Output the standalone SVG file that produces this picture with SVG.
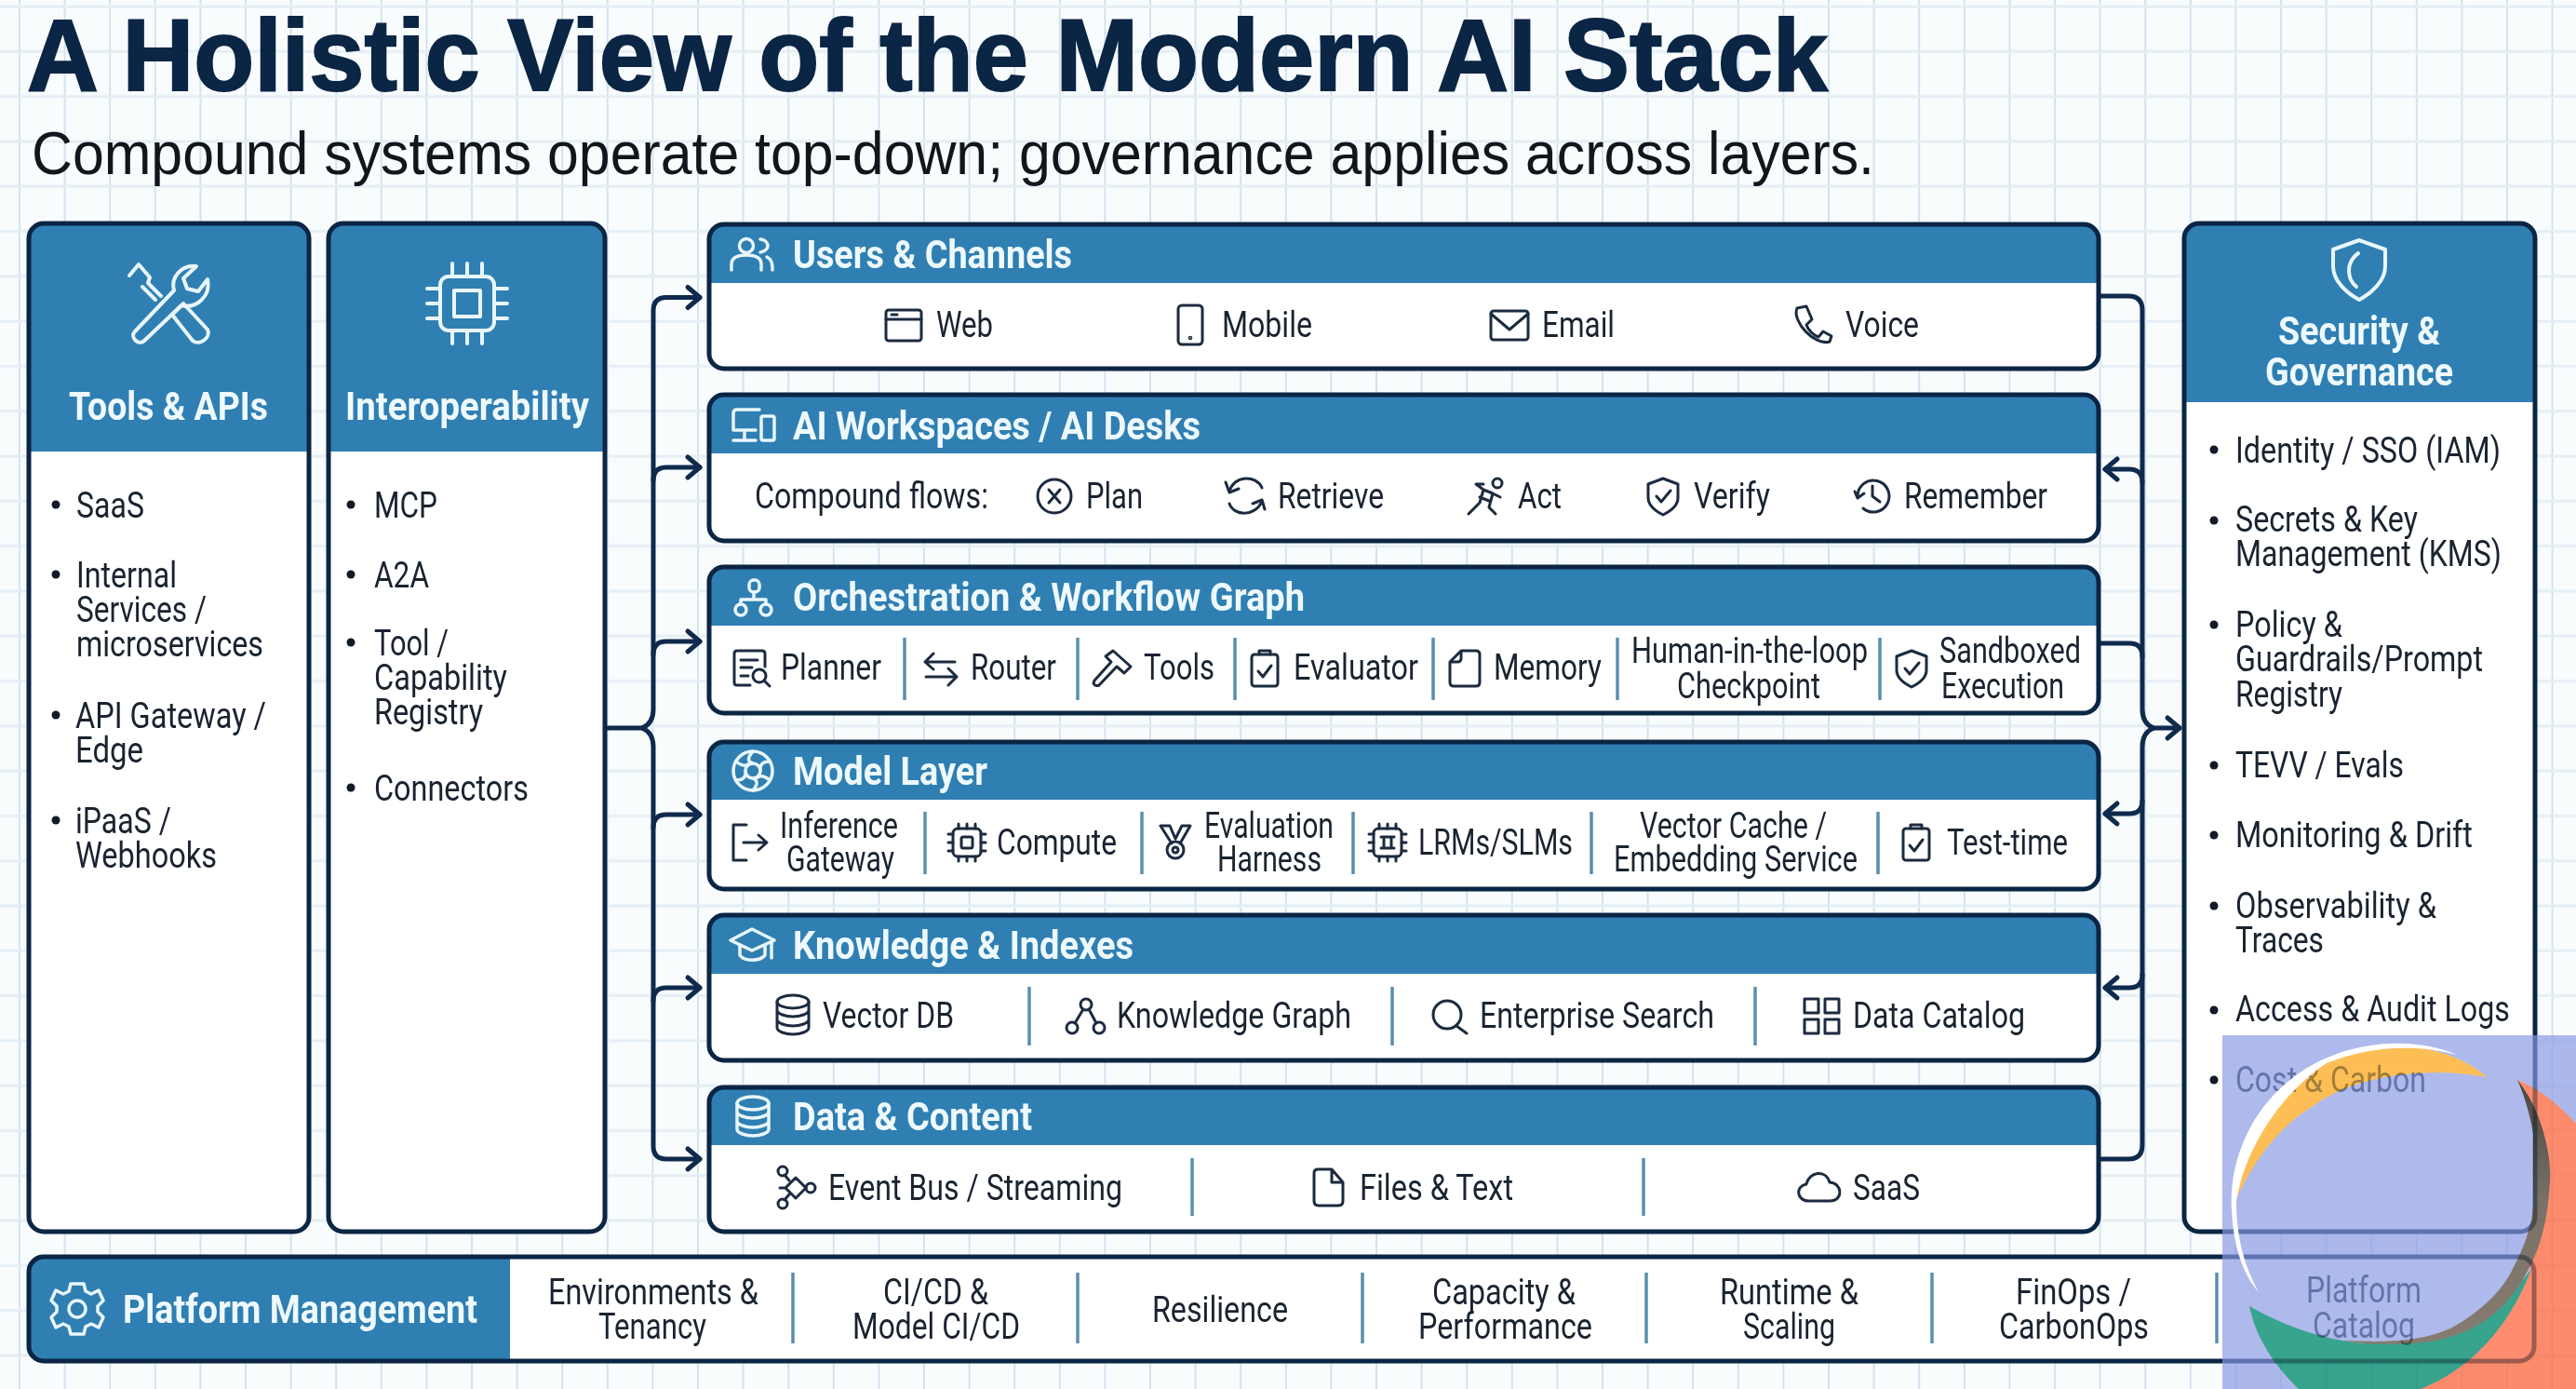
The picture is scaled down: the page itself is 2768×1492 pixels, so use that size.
<svg xmlns="http://www.w3.org/2000/svg" width="2768" height="1492" viewBox="0 0 2768 1492">
<style>
.t{font-family:Roboto,"Liberation Sans",sans-serif;font-size:38px;fill:#1a2330;transform:translateY(1px)}
.h{font-family:Roboto,"Liberation Sans",sans-serif;font-size:43px;font-weight:700;fill:#eef9fd}
.card{fill:#fff}
.hd{fill:#2f7fb3}
.edge{fill:none;stroke:#0b2545;stroke-width:5}
.dv{stroke:#5a8fae;stroke-width:3.5;fill:none}
.ic{fill:none;stroke:#1c2b3f;stroke-width:3;stroke-linecap:round;stroke-linejoin:round}
.iw{fill:none;stroke:#e8f6fb;stroke-width:3.5;stroke-linecap:round;stroke-linejoin:round}
.b{fill:#111a26}
.cn{fill:none;stroke:#0f2a4d;stroke-width:5;stroke-linecap:round}
</style>
<defs>
<pattern id="grid" width="48.6" height="48.3" patternUnits="userSpaceOnUse" patternTransform="translate(21 7)">
<rect x="-1" y="0" width="2" height="48.3" fill="#d3e3ee"/>
<rect x="47.6" y="0" width="2" height="48.3" fill="#d3e3ee"/>
<rect x="0" y="-1.5" width="48.6" height="3" fill="#e4eef5"/>
<rect x="0" y="46.8" width="48.6" height="3" fill="#e4eef5"/>
</pattern>
<marker id="arr" markerUnits="userSpaceOnUse" markerWidth="40" markerHeight="40" refX="20" refY="20" orient="auto" overflow="visible">
<path d="M7 9 L20 20 L7 31" fill="none" stroke="#0f2a4d" stroke-width="5" stroke-linecap="round" stroke-linejoin="round"/>
</marker>
<clipPath id="ov"><rect x="2388" y="1112" width="380" height="380"/></clipPath>
<linearGradient id="gr" gradientUnits="userSpaceOnUse" x1="0" y1="1160" x2="0" y2="1445"><stop offset="0" stop-color="#4a4644"/><stop offset="0.45" stop-color="#7b7268"/><stop offset="1" stop-color="#857b70"/></linearGradient>
<path id="s-or" d="M2705 1160C2740 1175 2765 1200 2790 1235V1500H2570C2620 1490 2660 1462 2690 1420C2720 1380 2740 1300 2737 1260C2735 1220 2725 1190 2705 1160Z"/>
<path id="s-te" d="M2417 1403C2425 1440 2445 1468 2473 1495H2593C2650 1475 2695 1430 2720 1363C2680 1420 2610 1445 2540 1443C2500 1440 2455 1425 2417 1403Z"/>
<path id="s-gy" d="M2705 1160C2730 1190 2742 1240 2740 1267C2738 1310 2730 1340 2717 1363C2690 1420 2640 1440 2593 1443C2560 1445 2535 1443 2517 1440C2560 1442 2600 1442 2633 1427C2665 1410 2690 1385 2700 1363C2718 1330 2724 1300 2722 1283C2723 1250 2722 1225 2722 1217C2718 1195 2712 1175 2705 1160Z"/>
<path id="s-ye" d="M2672 1157C2630 1120 2560 1115 2500 1140C2450 1165 2415 1225 2403 1287C2425 1240 2455 1205 2487 1187C2530 1155 2610 1145 2672 1157Z"/>
<mask id="hole" maskUnits="userSpaceOnUse" x="2388" y="1112" width="380" height="380">
<rect x="2388" y="1112" width="380" height="380" fill="#fff"/>
<g fill="#000"><use href="#s-or"/><use href="#s-te"/><use href="#s-gy"/><use href="#s-ye"/></g>
</mask>
<g id="logo-shapes">
<use href="#s-or" fill="#ff8c6e"/>
<use href="#s-te" fill="#38a48e"/>
<use href="#s-gy" fill="url(#gr)"/>
<use href="#s-ye" fill="#fdbf55"/>
</g>
<g id="i-db"><ellipse cx="0" cy="-14" rx="17" ry="7"/><path d="M-17 -14V14C-17 18 -8 21 0 21S17 18 17 14V-14M-17 -5C-17 -1 -8 2 0 2S17 -1 17 -5M-17 5C-17 9 -8 12 0 12S17 9 17 5"/></g>
<g id="i-sh"><path d="M0 -19L16 -13V2C16 10 8 16 0 20C-8 16 -16 10 -16 2V-13Z"/><path d="M-7 0L-2 6L8 -6"/></g>
<g id="i-cb"><rect x="-14" y="-15" width="28" height="34" rx="3"/><path d="M-6 -15V-19H6V-15M-7 3L-2 9L7 -3"/></g>
</defs>
<rect width="2768" height="1492" fill="#f9fcfd"/>
<rect width="2768" height="1492" fill="url(#grid)"/>

<text x="29" y="97" textLength="1935" lengthAdjust="spacingAndGlyphs" style="font-family:'Liberation Sans',Arial,sans-serif;font-size:110px;font-weight:700;fill:#0b2545;stroke:#0b2545;stroke-width:2">A Holistic View of the Modern AI Stack</text>
<text x="34" y="187" textLength="1980" lengthAdjust="spacingAndGlyphs" style="font-family:'Liberation Sans',Arial,sans-serif;font-size:64px;fill:#12161c">Compound systems operate top-down; governance applies across layers.</text>

<g id="connectors">
<path class="cn" d="M652 782H690Q702 777 702 762V334Q702 319.500 716 319.500H752" marker-end="url(#arr)"/>
<path class="cn" d="M690 782Q702 787 702 802V1231Q702 1245 716 1245H752" marker-end="url(#arr)"/>
<path class="cn" d="M702 516Q702 502 716 502H752" marker-end="url(#arr)"/>
<path class="cn" d="M702 703Q702 689 716 689H752" marker-end="url(#arr)"/>
<path class="cn" d="M702 889Q702 875 716 875H752" marker-end="url(#arr)"/>
<path class="cn" d="M702 1075Q702 1061 716 1061H752" marker-end="url(#arr)"/>
<path class="cn" d="M2257 318H2287Q2302 318 2302 333V762Q2302 777 2314 782"/>
<path class="cn" d="M2257 1245H2287Q2302 1245 2302 1230V802Q2302 787 2314 782"/>
<path class="cn" d="M2312 782H2342" marker-end="url(#arr)"/>
<path class="cn" d="M2302 518Q2302 504 2288 504H2262" marker-end="url(#arr)"/>
<path class="cn" d="M2257 691H2288Q2302 691 2302 705"/>
<path class="cn" d="M2302 860Q2302 874 2288 874H2262" marker-end="url(#arr)"/>
<path class="cn" d="M2302 1047Q2302 1061 2288 1061H2262" marker-end="url(#arr)"/>
</g>

<g id="tools-apis">
<rect class="card" x="31" y="240" width="301" height="1083" rx="16"/>
<path class="hd" d="M31 485V256Q31 240 47 240H316Q332 240 332 256V485Z"/>
<rect class="edge" x="31" y="240" width="301" height="1083" rx="16"/>
<g class="iw" transform="translate(181 326)" style="stroke-width:4">
<path d="M-36 30L6 -14C2 -28 14 -42 30 -40L16 -27L20 -16L32 -13L42 -26C46 -8 30 6 14 2L-26 40C-32 46 -42 36 -36 30Z"/>
<path d="M-42 -30L-32 -42L-20 -28L-22 -22L-8 -8M-28 -18L-14 -4"/>
<path d="M4 12L16 0L42 28C46 36 34 46 26 40Z"/>
</g>
<text class="h" x="74" y="451" textLength="214" lengthAdjust="spacingAndGlyphs">Tools &amp; APIs</text>
<circle class="b" cx="60" cy="542" r="4.500"/><text class="t" x="82" y="555" textLength="73" lengthAdjust="spacingAndGlyphs">SaaS</text>
<circle class="b" cx="60" cy="617" r="4.500"/><text class="t" x="82" y="630" textLength="108" lengthAdjust="spacingAndGlyphs">Internal</text>
<text class="t" x="82" y="667" textLength="140" lengthAdjust="spacingAndGlyphs">Services /</text>
<text class="t" x="82" y="704" textLength="201" lengthAdjust="spacingAndGlyphs">microservices</text>
<circle class="b" cx="60" cy="768" r="4.500"/><text class="t" x="81" y="781" textLength="205" lengthAdjust="spacingAndGlyphs">API Gateway /</text>
<text class="t" x="81" y="818" textLength="73" lengthAdjust="spacingAndGlyphs">Edge</text>
<circle class="b" cx="60" cy="881" r="4.500"/><text class="t" x="81" y="894" textLength="103" lengthAdjust="spacingAndGlyphs">iPaaS /</text>
<text class="t" x="81" y="931" textLength="152" lengthAdjust="spacingAndGlyphs">Webhooks</text>
</g>

<g id="interoperability">
<rect class="card" x="353" y="240" width="297" height="1083" rx="16"/>
<path class="hd" d="M353 485V256Q353 240 369 240H634Q650 240 650 256V485Z"/>
<rect class="edge" x="353" y="240" width="297" height="1083" rx="16"/>
<g class="iw" transform="translate(502 326)" style="stroke-width:4">
<rect x="-29" y="-29" width="58" height="58" rx="9"/><rect x="-14" y="-14" width="28" height="28"/>
<path d="M-16 -29V-43M0 -29V-43M16 -29V-43M-16 29V43M0 29V43M16 29V43M-29 -16H-43M-29 0H-43M-29 16H-43M29 -16H43M29 0H43M29 16H43"/>
</g>
<text class="h" x="371" y="451" textLength="262" lengthAdjust="spacingAndGlyphs">Interoperability</text>
<circle class="b" cx="377" cy="542" r="4.500"/><text class="t" x="402" y="555" textLength="68" lengthAdjust="spacingAndGlyphs">MCP</text>
<circle class="b" cx="377" cy="617" r="4.500"/><text class="t" x="402" y="630" textLength="59" lengthAdjust="spacingAndGlyphs">A2A</text>
<circle class="b" cx="377" cy="690" r="4.500"/><text class="t" x="402" y="703" textLength="80" lengthAdjust="spacingAndGlyphs">Tool /</text>
<text class="t" x="402" y="740" textLength="143" lengthAdjust="spacingAndGlyphs">Capability</text>
<text class="t" x="402" y="777" textLength="117" lengthAdjust="spacingAndGlyphs">Registry</text>
<circle class="b" cx="377" cy="846" r="4.500"/><text class="t" x="402" y="859" textLength="166" lengthAdjust="spacingAndGlyphs">Connectors</text>
</g>

<g id="users-channels">
<rect class="card" x="762" y="241" width="1493" height="155" rx="16"/>
<path class="hd" d="M762 304V257Q762 241 778 241H2239Q2255 241 2255 257V304Z"/>
<rect class="edge" x="762" y="241" width="1493" height="155" rx="16"/>
<g class="iw" transform="translate(808 273)"><circle cx="-6" cy="-9" r="7.500"/><path d="M-22 17V11C-22 3 -14 1 -6 1S10 3 10 11V17M9 -16C14 -16 17 -12 17 -9S14 -3 9 -2M16 3C20 5 22 8 22 17"/></g>
<text class="h" x="852" y="288" textLength="300" lengthAdjust="spacingAndGlyphs">Users &amp; Channels</text>
<g class="ic"><rect x="952" y="333" width="38" height="33" rx="3"/><path d="M952 343H990M958 338H964"/></g>
<text class="t" x="1006" y="361" textLength="61" lengthAdjust="spacingAndGlyphs">Web</text>
<g class="ic"><rect x="1266" y="328" width="26" height="42" rx="4"/><circle cx="1279" cy="363" r="0.800"/></g>
<text class="t" x="1313" y="361" textLength="97" lengthAdjust="spacingAndGlyphs">Mobile</text>
<g class="ic"><rect x="1602" y="334" width="40" height="31" rx="3"/><path d="M1602 337L1622 354L1642 337"/></g>
<text class="t" x="1657" y="361" textLength="78" lengthAdjust="spacingAndGlyphs">Email</text>
<path class="ic" d="M1931 331L1941 329L1947 343L1941 349C1943 355 1949 360 1954 362L1959 356L1968 361L1966 367C1950 372 1925 345 1931 331Z"/>
<text class="t" x="1983" y="361" textLength="79" lengthAdjust="spacingAndGlyphs">Voice</text>
</g>

<g id="ai-workspaces">
<rect class="card" x="762" y="424" width="1493" height="157" rx="16"/>
<path class="hd" d="M762 487V440Q762 424 778 424H2239Q2255 424 2255 440V487Z"/>
<rect class="edge" x="762" y="424" width="1493" height="157" rx="16"/>
<g class="iw"><path d="M816 440H792Q788 440 788 444V462H812M800 462V472M788 473H812"/><rect x="818" y="447" width="14" height="26" rx="2"/></g>
<text class="h" x="852" y="472" textLength="438" lengthAdjust="spacingAndGlyphs">AI Workspaces / AI Desks</text>
<text class="t" x="811" y="545" textLength="251" lengthAdjust="spacingAndGlyphs">Compound flows:</text>
<g class="ic"><circle cx="1133" cy="533" r="18"/><path d="M1127 526L1139 540M1139 526L1127 540"/></g>
<text class="t" x="1167" y="545" textLength="61" lengthAdjust="spacingAndGlyphs">Plan</text>
<g class="ic"><path d="M1321 528C1326 510 1350 510 1356 524M1356 538C1350 555 1326 555 1321 541"/><path d="M1317 518L1321 529L1331 525M1359 547L1356 537L1346 541"/></g>
<text class="t" x="1373" y="545" textLength="114" lengthAdjust="spacingAndGlyphs">Retrieve</text>
<g class="ic"><circle cx="1609" cy="519" r="5"/><path d="M1578 552L1590 540L1594 526L1604 530L1600 545L1607 552M1594 526L1586 520H1594M1604 530L1612 534M1600 538L1590 534"/></g>
<text class="t" x="1631" y="545" textLength="47" lengthAdjust="spacingAndGlyphs">Act</text>
<use href="#i-sh" class="ic" x="1787" y="533"/>
<text class="t" x="1820" y="545" textLength="82" lengthAdjust="spacingAndGlyphs">Verify</text>
<g class="ic"><path d="M1996 533A17 17 0 1 1 2002 546M1993 528L1996 535L2003 530M2012 522V533L2020 539"/></g>
<text class="t" x="2046" y="545" textLength="154" lengthAdjust="spacingAndGlyphs">Remember</text>
</g>

<g id="orchestration">
<rect class="card" x="762" y="609" width="1493" height="157" rx="16"/>
<path class="hd" d="M762 672V625Q762 609 778 609H2239Q2255 609 2255 625V672Z"/>
<rect class="edge" x="762" y="609" width="1493" height="157" rx="16"/>
<g class="iw"><circle cx="796" cy="655" r="6"/><circle cx="823" cy="655" r="6"/><rect x="805" y="623" width="11" height="13" rx="5"/><path d="M810 636V644M796 649V644H823V649"/></g>
<text class="h" x="852" y="656" textLength="550" lengthAdjust="spacingAndGlyphs">Orchestration &amp; Workflow Graph</text>
<g class="ic"><path d="M822 716V702Q822 699 819 699H792Q789 699 789 702V733Q789 736 792 736H806M796 709H814M796 717H808M796 726H804"/><circle cx="816" cy="726" r="7"/><path d="M821 731L827 737"/></g>
<text class="t" x="839" y="729" textLength="108" lengthAdjust="spacingAndGlyphs">Planner</text>
<path class="dv" d="M972 685V752"/>
<g class="ic"><path d="M1026 711H995M1003 702L994 711L1003 719M995 727H1027M1019 718L1028 727L1019 736"/></g>
<text class="t" x="1043" y="729" textLength="92" lengthAdjust="spacingAndGlyphs">Router</text>
<path class="dv" d="M1158 685V752"/>
<path class="ic" d="M1196 699L1215 716L1208 723L1200 716L1181 736C1176 738 1174 734 1176 731L1194 711L1188 705Z"/>
<text class="t" x="1229" y="729" textLength="76" lengthAdjust="spacingAndGlyphs">Tools</text>
<path class="dv" d="M1327 685V752"/>
<use href="#i-cb" class="ic" x="1359" y="718"/>
<text class="t" x="1390" y="729" textLength="134" lengthAdjust="spacingAndGlyphs">Evaluator</text>
<path class="dv" d="M1540 685V752"/>
<path class="ic" d="M1570 699H1586Q1590 699 1590 703V733Q1590 737 1586 737H1562Q1558 737 1558 733V711ZM1558 711H1566Q1570 711 1570 707V699"/>
<text class="t" x="1605" y="729" textLength="116" lengthAdjust="spacingAndGlyphs">Memory</text>
<path class="dv" d="M1738 685V752"/>
<text class="t" x="1753" y="711" textLength="254" lengthAdjust="spacingAndGlyphs">Human-in-the-loop</text>
<text class="t" x="1802" y="749" textLength="154" lengthAdjust="spacingAndGlyphs">Checkpoint</text>
<path class="dv" d="M2020 685V752"/>
<use href="#i-sh" class="ic" x="2054" y="718"/>
<text class="t" x="2084" y="711" textLength="152" lengthAdjust="spacingAndGlyphs">Sandboxed</text>
<text class="t" x="2086" y="749" textLength="132" lengthAdjust="spacingAndGlyphs">Execution</text>
</g>

<g id="model-layer">
<rect class="card" x="762" y="797" width="1493" height="158" rx="16"/>
<path class="hd" d="M762 859V813Q762 797 778 797H2239Q2255 797 2255 813V859Z"/>
<rect class="edge" x="762" y="797" width="1493" height="158" rx="16"/>
<g class="iw" transform="translate(809 828)"><circle r="21"/><circle r="8"/><path d="M0 -21C-6 -14 -6 -10 0 -8M18 -10C10 -10 7 -6 8 0M18 10C12 5 8 5 5 7M0 21C6 14 5 10 0 8M-18 10C-10 10 -7 6 -8 0M-18 -10C-12 -5 -8 -5 -5 -7"/></g>
<text class="h" x="852" y="843" textLength="209" lengthAdjust="spacingAndGlyphs">Model Layer</text>
<g class="ic"><path d="M802 886H788V924H802M799 905H823M815 897L824 905L815 913"/></g>
<text class="t" x="838" y="899" textLength="127" lengthAdjust="spacingAndGlyphs">Inference</text>
<text class="t" x="845" y="935" textLength="116" lengthAdjust="spacingAndGlyphs">Gateway</text>
<path class="dv" d="M994 872V939"/>
<g class="ic" transform="translate(1039 905)"><rect x="-15" y="-15" width="30" height="30" rx="5"/><rect x="-6" y="-6" width="12" height="12" rx="2"/><path d="M-9 -15V-20M0 -15V-20M9 -15V-20M-9 15V20M0 15V20M9 15V20M-15 -9H-20M-15 0H-20M-15 9H-20M15 -9H20M15 0H20M15 9H20"/></g>
<text class="t" x="1071" y="917" textLength="129" lengthAdjust="spacingAndGlyphs">Compute</text>
<path class="dv" d="M1227 872V939"/>
<g class="ic"><path d="M1247 887L1257 887L1263 901L1270 887H1279L1268 906M1259 906L1247 887"/><circle cx="1263" cy="913" r="9"/><circle cx="1263" cy="913" r="3"/></g>
<text class="t" x="1294" y="899" textLength="139" lengthAdjust="spacingAndGlyphs">Evaluation</text>
<text class="t" x="1308" y="935" textLength="112" lengthAdjust="spacingAndGlyphs">Harness</text>
<path class="dv" d="M1454 872V939"/>
<g class="ic" transform="translate(1491 905)"><rect x="-15" y="-15" width="30" height="30" rx="5"/><path d="M-4 -6V6M4 -6V6M-7 -6H7M-7 6H7M-9 -15V-20M0 -15V-20M9 -15V-20M-9 15V20M0 15V20M9 15V20M-15 -9H-20M-15 0H-20M-15 9H-20M15 -9H20M15 0H20M15 9H20"/></g>
<text class="t" x="1524" y="917" textLength="166" lengthAdjust="spacingAndGlyphs">LRMs/SLMs</text>
<path class="dv" d="M1710 872V939"/>
<text class="t" x="1762" y="899" textLength="201" lengthAdjust="spacingAndGlyphs">Vector Cache /</text>
<text class="t" x="1734" y="935" textLength="262" lengthAdjust="spacingAndGlyphs">Embedding Service</text>
<path class="dv" d="M2018 872V939"/>
<use href="#i-cb" class="ic" x="2059" y="905"/>
<text class="t" x="2092" y="917" textLength="130" lengthAdjust="spacingAndGlyphs">Test-time</text>
</g>

<g id="knowledge-indexes">
<rect class="card" x="762" y="983" width="1493" height="156" rx="16"/>
<path class="hd" d="M762 1046V999Q762 983 778 983H2239Q2255 983 2255 999V1046Z"/>
<rect class="edge" x="762" y="983" width="1493" height="156" rx="16"/>
<g class="iw"><path d="M785 1010L808 998L832 1010L808 1021Z"/><path d="M795 1016V1026C800 1033 816 1033 822 1026V1016M829 1012V1029"/></g>
<text class="h" x="852" y="1030" textLength="366" lengthAdjust="spacingAndGlyphs">Knowledge &amp; Indexes</text>
<use href="#i-db" class="ic" x="852" y="1090"/>
<text class="t" x="884" y="1103" textLength="141" lengthAdjust="spacingAndGlyphs">Vector DB</text>
<path class="dv" d="M1106 1060V1123"/>
<g class="ic"><circle cx="1167" cy="1079" r="6"/><circle cx="1152" cy="1104" r="6"/><circle cx="1181" cy="1104" r="6"/><path d="M1164 1084L1155 1099M1170 1084L1178 1099"/></g>
<text class="t" x="1200" y="1103" textLength="252" lengthAdjust="spacingAndGlyphs">Knowledge Graph</text>
<path class="dv" d="M1496 1060V1123"/>
<g class="ic"><circle cx="1555" cy="1090" r="15"/><path d="M1565 1102L1576 1110"/></g>
<text class="t" x="1590" y="1103" textLength="252" lengthAdjust="spacingAndGlyphs">Enterprise Search</text>
<path class="dv" d="M1886 1060V1123"/>
<g class="ic"><rect x="1939" y="1073" width="15" height="15"/><rect x="1961" y="1073" width="15" height="15"/><rect x="1939" y="1095" width="15" height="15"/><rect x="1961" y="1095" width="15" height="15"/></g>
<text class="t" x="1991" y="1103" textLength="185" lengthAdjust="spacingAndGlyphs">Data Catalog</text>
</g>

<g id="data-content">
<rect class="card" x="762" y="1168" width="1493" height="155" rx="16"/>
<path class="hd" d="M762 1230V1184Q762 1168 778 1168H2239Q2255 1168 2255 1184V1230Z"/>
<rect class="edge" x="762" y="1168" width="1493" height="155" rx="16"/>
<use href="#i-db" class="iw" x="809" y="1199"/>
<text class="h" x="852" y="1214" textLength="257" lengthAdjust="spacingAndGlyphs">Data &amp; Content</text>
<g class="ic"><circle cx="841" cy="1258" r="5"/><circle cx="841" cy="1293" r="5"/><circle cx="871" cy="1276" r="5"/><path d="M855 1265L866 1276L855 1287L844 1276Z"/><path d="M843 1262L848 1268M843 1289L848 1283M838 1276H843"/></g>
<text class="t" x="890" y="1288" textLength="316" lengthAdjust="spacingAndGlyphs">Event Bus / Streaming</text>
<path class="dv" d="M1281 1244V1306"/>
<path class="ic" d="M1416 1256H1431L1443 1270V1290Q1443 1295 1438 1295H1417Q1412 1295 1412 1290V1260Q1412 1256 1416 1256ZM1431 1256V1270H1443"/>
<text class="t" x="1461" y="1288" textLength="165" lengthAdjust="spacingAndGlyphs">Files &amp; Text</text>
<path class="dv" d="M1766 1244V1306"/>
<path class="ic" d="M1944 1290C1930 1290 1929 1274 1941 1272C1944 1258 1962 1256 1966 1270C1979 1270 1982 1290 1966 1290Z"/>
<text class="t" x="1991" y="1288" textLength="72" lengthAdjust="spacingAndGlyphs">SaaS</text>
</g>

<g id="security-governance">
<rect class="card" x="2347" y="240" width="377" height="1083" rx="16"/>
<path class="hd" d="M2347 432V256Q2347 240 2363 240H2708Q2724 240 2724 256V432Z"/>
<rect class="edge" x="2347" y="240" width="377" height="1083" rx="16"/>
<g class="iw" style="stroke-width:4"><path d="M2535 258L2563 268V286C2563 302 2548 315 2535 322C2522 315 2507 302 2507 286V268Z"/><path d="M2534 272C2520 282 2522 300 2532 308"/></g>
<text class="h" x="2448" y="370" textLength="174" lengthAdjust="spacingAndGlyphs">Security &amp;</text>
<text class="h" x="2434" y="414" textLength="202" lengthAdjust="spacingAndGlyphs">Governance</text>
<circle class="b" cx="2379" cy="483" r="4.500"/><text class="t" x="2402" y="496" textLength="285" lengthAdjust="spacingAndGlyphs">Identity / SSO (IAM)</text>
<circle class="b" cx="2379" cy="559" r="4.500"/><text class="t" x="2402" y="570" textLength="196" lengthAdjust="spacingAndGlyphs">Secrets &amp; Key</text>
<text class="t" x="2402" y="607" textLength="286" lengthAdjust="spacingAndGlyphs">Management (KMS)</text>
<circle class="b" cx="2379" cy="671" r="4.500"/><text class="t" x="2402" y="683" textLength="115" lengthAdjust="spacingAndGlyphs">Policy &amp;</text>
<text class="t" x="2402" y="720" textLength="266" lengthAdjust="spacingAndGlyphs">Guardrails/Prompt</text>
<text class="t" x="2402" y="758" textLength="115" lengthAdjust="spacingAndGlyphs">Registry</text>
<circle class="b" cx="2379" cy="822" r="4.500"/><text class="t" x="2402" y="834" textLength="181" lengthAdjust="spacingAndGlyphs">TEVV / Evals</text>
<circle class="b" cx="2379" cy="897" r="4.500"/><text class="t" x="2402" y="909" textLength="255" lengthAdjust="spacingAndGlyphs">Monitoring &amp; Drift</text>
<circle class="b" cx="2379" cy="973" r="4.500"/><text class="t" x="2402" y="985" textLength="216" lengthAdjust="spacingAndGlyphs">Observability &amp;</text>
<text class="t" x="2402" y="1022" textLength="95" lengthAdjust="spacingAndGlyphs">Traces</text>
<circle class="b" cx="2379" cy="1085" r="4.500"/><text class="t" x="2402" y="1096" textLength="295" lengthAdjust="spacingAndGlyphs">Access &amp; Audit Logs</text>
<circle class="b" cx="2379" cy="1160" r="4.500"/><text class="t" x="2402" y="1172" textLength="205" lengthAdjust="spacingAndGlyphs">Cost &amp; Carbon</text>
</g>

<g id="platform-management">
<rect class="card" x="31" y="1350" width="2692" height="112" rx="16"/>
<path class="hd" d="M548 1350V1462H47Q31 1462 31 1446V1366Q31 1350 47 1350Z"/>
<rect class="edge" x="31" y="1350" width="2692" height="112" rx="16"/>
<g class="iw" transform="translate(83 1406)"><circle r="9"/><path d="M-7 -27H7L9 -19L15 -16L23 -20L28 -9L22 -3V3L28 9L23 20L15 16L9 19L7 27H-7L-9 19L-15 16L-23 20L-28 9L-22 3V-3L-28 -9L-23 -20L-15 -16L-9 -19Z"/></g>
<text class="h" x="132" y="1421" textLength="381" lengthAdjust="spacingAndGlyphs">Platform Management</text>
<text class="t" x="589" y="1400" textLength="226" lengthAdjust="spacingAndGlyphs">Environments &amp;</text>
<text class="t" x="643" y="1437" textLength="116" lengthAdjust="spacingAndGlyphs">Tenancy</text>
<path class="dv" d="M852 1367V1443"/>
<text class="t" x="949" y="1400" textLength="113" lengthAdjust="spacingAndGlyphs">CI/CD &amp;</text>
<text class="t" x="916" y="1437" textLength="180" lengthAdjust="spacingAndGlyphs">Model CI/CD</text>
<path class="dv" d="M1158 1367V1443"/>
<text class="t" x="1238" y="1419" textLength="146" lengthAdjust="spacingAndGlyphs">Resilience</text>
<path class="dv" d="M1464 1367V1443"/>
<text class="t" x="1539" y="1400" textLength="154" lengthAdjust="spacingAndGlyphs">Capacity &amp;</text>
<text class="t" x="1524" y="1437" textLength="187" lengthAdjust="spacingAndGlyphs">Performance</text>
<path class="dv" d="M1769 1367V1443"/>
<text class="t" x="1848" y="1400" textLength="149" lengthAdjust="spacingAndGlyphs">Runtime &amp;</text>
<text class="t" x="1873" y="1437" textLength="99" lengthAdjust="spacingAndGlyphs">Scaling</text>
<path class="dv" d="M2076 1367V1443"/>
<text class="t" x="2166" y="1400" textLength="124" lengthAdjust="spacingAndGlyphs">FinOps /</text>
<text class="t" x="2148" y="1437" textLength="161" lengthAdjust="spacingAndGlyphs">CarbonOps</text>
<path class="dv" d="M2382 1367V1443"/>
<text class="t" x="2478" y="1398" textLength="124" lengthAdjust="spacingAndGlyphs">Platform</text>
<text class="t" x="2485" y="1436" textLength="110" lengthAdjust="spacingAndGlyphs">Catalog</text>
</g>

<rect x="2388" y="1112" width="380" height="380" fill="#8899e4" opacity="0.68" mask="url(#hole)"/>
<use href="#logo-shapes" clip-path="url(#ov)" style="mix-blend-mode:multiply"/>
<use href="#logo-shapes" clip-path="url(#ov)" opacity="0.6"/>
<path clip-path="url(#ov)" fill="#fff" d="M2640 1133C2590 1112 2520 1118 2470 1153C2410 1195 2395 1260 2398 1300C2400 1340 2410 1368 2427 1388C2412 1360 2403 1330 2403 1290C2412 1235 2450 1175 2500 1142C2550 1122 2600 1122 2640 1133Z"/>
</svg>
